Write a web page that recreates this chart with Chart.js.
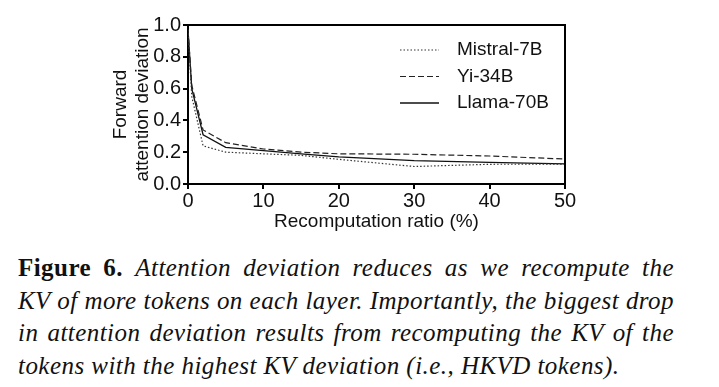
<!DOCTYPE html>
<html>
<head>
<meta charset="utf-8">
<script src="https://cdn.jsdelivr.net/npm/chart.js@4"></script>
<style>
  body { margin: 0; background: #fff; width: 719px; height: 387px; overflow: hidden; }
  #wrap { position: absolute; left: 0; top: 0; width: 719px; height: 235px; }
  .caption { position: absolute; left: 18px; top: 252px; width: 656px;
    font-family: "Liberation Serif", "DejaVu Serif", serif; font-size: 25px; line-height: 32.7px;
    letter-spacing: 0.45px; color: #111; }
  .caption div { text-align: justify; text-align-last: justify; white-space: nowrap; }
  .caption div.last { text-align-last: left; }
  .caption i { font-style: italic; }
</style>
</head>
<body>
<div id="wrap"><canvas id="chart" width="719" height="235"></canvas></div>
<div class="caption">
  <div><b>Figure 6.</b> <i>Attention deviation reduces as we recompute the</i></div>
  <div><i>KV of more tokens on each layer. Importantly, the biggest drop</i></div>
  <div><i>in attention deviation results from recomputing the KV of the</i></div>
  <div class="last"><i>tokens with the highest KV deviation (i.e., HKVD tokens).</i></div>
</div>
<script>
// Dados
const ratios = [0, 0.5, 2, 5, 10, 15, 20, 30, 40, 50];
const mistral = [0.97, 0.55, 0.24, 0.20, 0.19, 0.18, 0.155, 0.11, 0.124, 0.125];
const yi = [0.97, 0.62, 0.34, 0.26, 0.22, 0.20, 0.19, 0.187, 0.176, 0.157];
const llama = [0.97, 0.60, 0.31, 0.23, 0.21, 0.19, 0.17, 0.147, 0.136, 0.127];
const seriesNames = ['Mistral-7B', 'Yi-34B', 'Llama-70B'];
const xTicks = [0, 10, 20, 30, 40, 50];
const yTicks = [0, 0.2, 0.4, 0.6, 0.8, 1.0];

const sans = '"Liberation Sans", Arial, sans-serif';

function toPoints(values) {
    return ratios.map((r, i) => ({ x: r, y: values[i] }));
}

// Legenda dentro da área do gráfico e moldura
const insideLegend = {
    id: 'insideLegend',
    afterDraw(chart) {
        const ctx = chart.ctx;
        const area = chart.chartArea;
        ctx.save();
        // moldura superior e direita
        ctx.strokeStyle = '#000';
        ctx.lineWidth = 2;
        ctx.beginPath();
        ctx.moveTo(area.left, area.top);
        ctx.lineTo(area.right, area.top);
        ctx.lineTo(area.right, area.bottom);
        ctx.stroke();

        ctx.font = '19px ' + sans;
        ctx.textBaseline = 'middle';
        ctx.fillStyle = '#111';
        chart.data.datasets.forEach((ds, i) => {
            const y = area.top + 25 + i * 26.5;
            const x0 = area.left + 212;
            ctx.strokeStyle = ds.borderColor;
            ctx.lineWidth = ds.borderWidth;
            ctx.setLineDash(ds.borderDash || []);
            ctx.beginPath();
            ctx.moveTo(x0, y);
            ctx.lineTo(x0 + 39, y);
            ctx.stroke();
            ctx.setLineDash([]);
            ctx.fillText(ds.label, x0 + 57, y);
        });
        ctx.restore();
    }
};

const ctx = document.getElementById('chart').getContext('2d');
new Chart(ctx, {
    type: 'line',
    data: {
        datasets: [
            { label: seriesNames[0], data: toPoints(mistral), borderColor: '#333', borderWidth: 1.2, borderDash: [1.5, 2] },
            { label: seriesNames[1], data: toPoints(yi), borderColor: '#222', borderWidth: 1.2, borderDash: [6, 3] },
            { label: seriesNames[2], data: toPoints(llama), borderColor: '#111', borderWidth: 1.3 }
        ]
    },
    plugins: [insideLegend],
    options: {
        responsive: false,
        animation: false,
        layout: { padding: { left: 110, top: 25, right: 154, bottom: 0 } },
        elements: { point: { radius: 0 }, line: { tension: 0 } },
        plugins: { legend: { display: false }, tooltip: { enabled: false } },
        scales: {
            x: {
                type: 'linear', min: 0, max: 50,
                afterFit: s => { s.height = 51; },
                afterBuildTicks: s => { s.ticks = xTicks.map(v => ({ value: v })); },
                grid: { drawOnChartArea: false, tickLength: 5, color: '#000', lineWidth: 2 },
                border: { color: '#000', width: 2 },
                ticks: { color: '#111', font: { family: sans, size: 20 }, padding: 0, maxRotation: 0 },
                title: { display: true, text: 'Recomputation ratio (%)', color: '#111', font: { family: sans, size: 19 }, padding: { top: 0, bottom: 2 } }
            },
            y: {
                min: 0, max: 1,
                afterFit: s => { s.width = 78; },
                afterBuildTicks: s => { s.ticks = yTicks.map(v => ({ value: v })); },
                grid: { drawOnChartArea: false, tickLength: 5, color: '#000', lineWidth: 2 },
                border: { color: '#000', width: 2 },
                ticks: { color: '#111', font: { family: sans, size: 20 }, padding: 2, callback: v => v.toFixed(1) },
                title: { display: true, text: ['Forward', 'attention deviation'], color: '#111', font: { family: sans, size: 19, lineHeight: 1.15 }, padding: 0 }
            }
        }
    }
});
</script>
</body>
</html>
